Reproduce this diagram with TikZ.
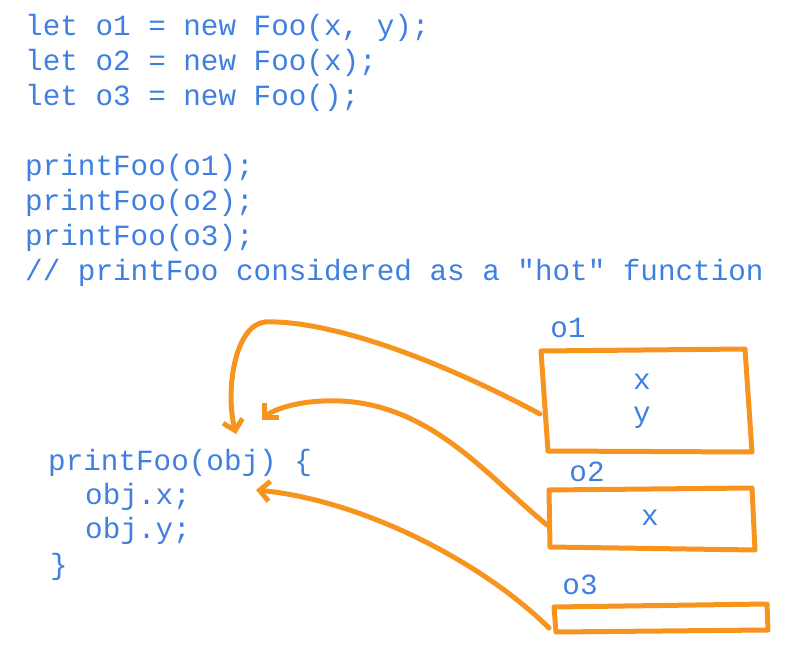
\documentclass[tikz,border=0pt]{standalone}
\usepackage{fontspec}
\setmonofont{Liberation Mono}
\usetikzlibrary{arrows.meta}
\definecolor{cblue}{HTML}{3F7FE0}
\definecolor{corange}{HTML}{F7941D}
\begin{document}
\begin{tikzpicture}[x=1pt,y=-1pt,
 code/.style={anchor=west,inner sep=0pt,text=cblue,font=\ttfamily\fontsize{29.3}{29}\selectfont},
 lbl/.style={inner sep=0pt,text=cblue,font=\ttfamily\fontsize{29.3}{29}\selectfont},
 box/.style={draw=corange,line width=5pt,line join=round},
 arr/.style={draw=corange,line width=5pt,line cap=round,-{Straight Barb[length=10pt,width=20pt]}}]
\useasboundingbox (0,0) rectangle (793,660);
\node[code] (l1) at (25,28) {let o1 = new Foo(x, y);};
\node[code] (l2) at (25,63) {let o2 = new Foo(x);};
\node[code] (l3) at (25,98) {let o3 = new Foo();};
\node[code] (l5) at (25,168) {printFoo(o1);};
\node[code] (l6) at (25,203) {printFoo(o2);};
\node[code] (l7) at (25,238) {printFoo(o3);};
\node[code] (l8) at (25,273) {// printFoo considered as a "hot" function};
\node[code] (f1) at (48,463) {printFoo(obj) \{};
\node[code] (f2) at (85,497) {obj.x;};
\node[code] (f3) at (85,531) {obj.y;};
\node[code] (f4) at (50,567) {\}};
\draw[box] (541,351) -- (745,349) -- (752,452) -- (548,451) -- cycle;
\node[lbl] (o1) at (568,328) {o1};
\node[lbl] (x1) at (642,382) {x};
\node[lbl] (y1) at (642,418) {y};
\draw[box] (549,490) -- (752,488) -- (755,550) -- (550,547) -- cycle;
\node[lbl] (o2) at (587,472) {o2};
\node[lbl] (x2) at (650,518) {x};
\draw[box] (554,607) -- (767,604) -- (768,630) -- (556,632) -- cycle;
\node[lbl] (o3) at (580,585) {o3};
\coordinate (s1) at (540,414);
\coordinate (e1) at (236,434);
\coordinate (s2) at (547,525);
\coordinate (e2) at (262,420);
\coordinate (s3) at (549,628);
\coordinate (e3) at (256,490);
\draw[arr] (s1) .. controls (420,350) and (320,320) .. (265,322) .. controls (235,325) and (225,390) .. (e1);
\draw[arr] (s2) .. controls (480,470) and (420,390) .. (310,402) .. controls (285,405) and (270,412) .. (e2);
\draw[arr] (s3) .. controls (480,560) and (360,500) .. (e3);
\end{tikzpicture}
\end{document}
